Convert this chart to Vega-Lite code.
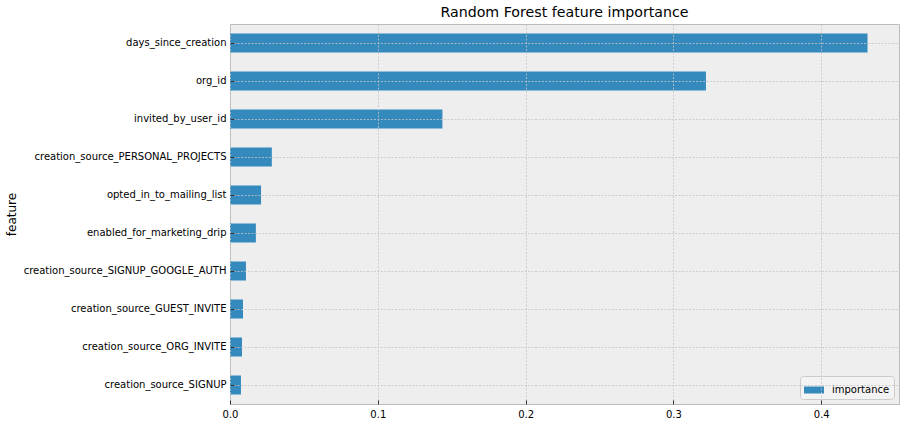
{
  "$schema": "https://vega.github.io/schema/vega-lite/v6.json",
  "autosize": {"type": "none"},
  "width": 669,
  "height": 380,
  "padding": {"left": 230, "top": 24, "right": 7, "bottom": 21},
  "background": "white",
  "title": {"text": "Random Forest feature importance", "font": "DejaVu Sans", "fontSize": 14.2, "fontWeight": "normal", "color": "#000000", "offset": 4},
  "data": {
    "values": [
      {"feature": "days_since_creation", "importance": 0.4313, "series": "importance"},
      {"feature": "org_id", "importance": 0.3220, "series": "importance"},
      {"feature": "invited_by_user_id", "importance": 0.1437, "series": "importance"},
      {"feature": "creation_source_PERSONAL_PROJECTS", "importance": 0.0283, "series": "importance"},
      {"feature": "opted_in_to_mailing_list", "importance": 0.0210, "series": "importance"},
      {"feature": "enabled_for_marketing_drip", "importance": 0.0175, "series": "importance"},
      {"feature": "creation_source_SIGNUP_GOOGLE_AUTH", "importance": 0.0108, "series": "importance"},
      {"feature": "creation_source_GUEST_INVITE", "importance": 0.0088, "series": "importance"},
      {"feature": "creation_source_ORG_INVITE", "importance": 0.0081, "series": "importance"},
      {"feature": "creation_source_SIGNUP", "importance": 0.0074, "series": "importance"}
    ]
  },
  "mark": {"type": "bar"},
  "encoding": {
    "y": {
      "field": "feature", "type": "nominal",
      "sort": {"field": "importance", "order": "descending"},
      "scale": {"paddingInner": 0.5, "paddingOuter": 0.25},
      "axis": {
        "title": "feature", "titleFont": "DejaVu Sans", "titleFontSize": 12, "titleFontWeight": "normal", "titleColor": "#000000",
        "titleAngle": -90, "titleX": -212, "titleY": 190, "titleAlign": "center", "titleBaseline": "bottom",
        "labelFont": "DejaVu Sans", "labelFontSize": 10, "labelColor": "#000000", "labelPadding": 8, "labelLimit": 0,
        "tickColor": "#333333", "tickSize": -4, "tickWidth": 1,
        "grid": true, "gridColor": "#c4c4c4", "gridDash": [2, 1.5], "gridWidth": 0.8,
        "domain": false, "zindex": 1
      }
    },
    "x": {
      "field": "importance", "type": "quantitative",
      "scale": {"domain": [0, 0.4526], "nice": false, "zero": true},
      "axis": {
        "title": null, "values": [0, 0.1, 0.2, 0.3, 0.4], "format": ".1f", "labelFlush": false,
        "labelFont": "DejaVu Sans", "labelFontSize": 10, "labelColor": "#000000", "labelPadding": 9,
        "tickColor": "#333333", "tickSize": -4, "tickWidth": 1,
        "grid": true, "gridColor": "#c4c4c4", "gridDash": [2, 1.5], "gridWidth": 0.8,
        "domain": false, "zindex": 1
      }
    },
    "color": {
      "field": "series", "type": "nominal",
      "scale": {"range": ["#348ABD"]},
      "legend": {
        "title": null, "orient": "bottom-right", "offset": 5,
        "symbolType": "M-1,-0.35H1V0.35H-1Z", "symbolSize": 400, "symbolOpacity": 1, "symbolStrokeWidth": 0,
        "labelFont": "DejaVu Sans", "labelFontSize": 10, "labelColor": "#000000", "labelOffset": 8,
        "fillColor": "#f3f3f3", "strokeColor": "#cccccc", "cornerRadius": 3, "padding": 4
      }
    }
  },
  "config": {
    "view": {"fill": "#eeeeee", "stroke": "#bcbcbc", "strokeWidth": 1},
    "bar": {"opacity": 1}
  }
}
